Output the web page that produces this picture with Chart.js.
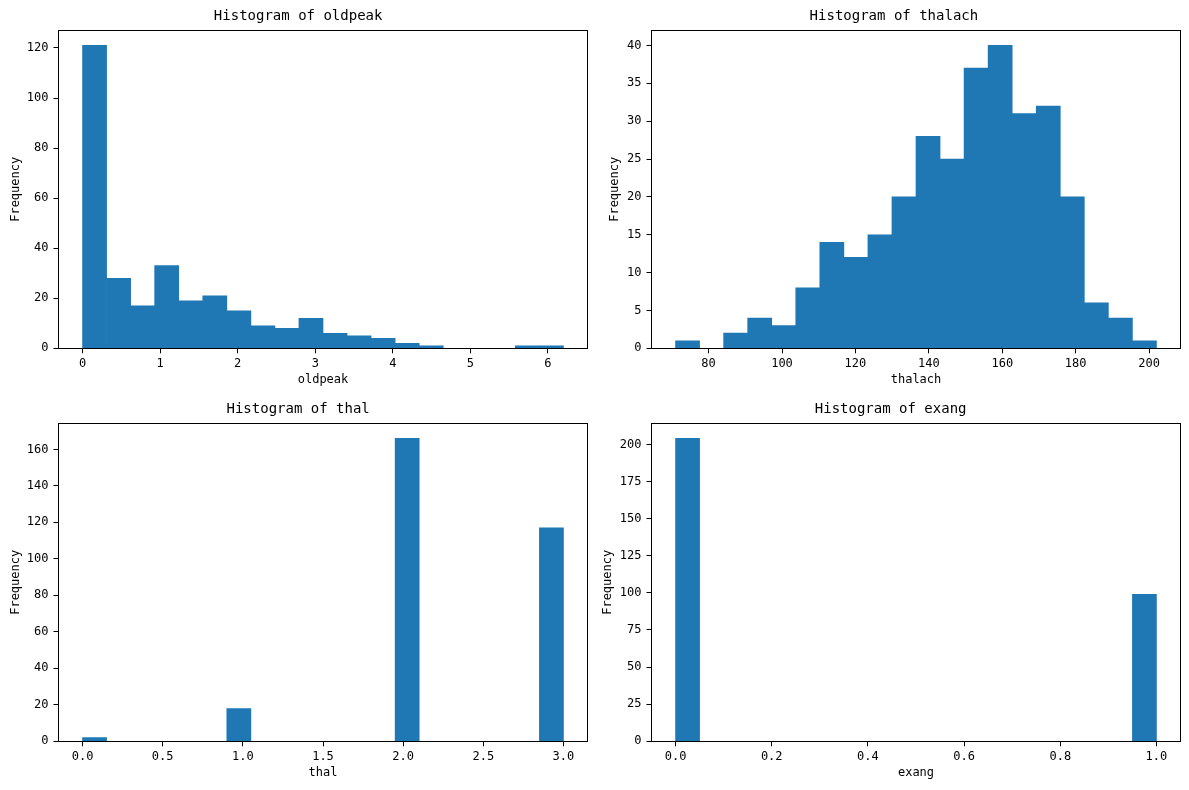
<!DOCTYPE html>
<html><head><meta charset="utf-8">
<script src="https://cdn.jsdelivr.net/npm/chart.js@4/dist/chart.umd.min.js"></script>
<style>
html,body{margin:0;padding:0;background:#fff;}
#wrap{position:relative;width:1189px;height:790px;overflow:hidden;background:#fff;}
canvas{position:absolute;}
</style></head><body>
<div id="wrap">
<canvas id="c1" width="594" height="395" style="left:0px;top:0px;width:594px;height:395px"></canvas>
<canvas id="c2" width="595" height="395" style="left:594px;top:0px;width:595px;height:395px"></canvas>
<canvas id="c3" width="594" height="395" style="left:0px;top:395px;width:594px;height:395px"></canvas>
<canvas id="c4" width="595" height="395" style="left:594px;top:395px;width:595px;height:395px"></canvas>
</div>
<script>
// ---- data (histogram counts, 20 bins each) ----
const oldpeakRange = [0, 6.2];
const oldpeakCounts = [121, 28, 17, 33, 19, 21, 15, 9, 8, 12, 6, 5, 4, 2, 1, 0, 0, 0, 1, 1];
const oldpeakXTicks = [0, 1, 2, 3, 4, 5, 6];
const oldpeakYTicks = [0, 20, 40, 60, 80, 100, 120];

const thalachRange = [71, 202];
const thalachCounts = [1, 0, 2, 4, 3, 8, 14, 12, 15, 20, 28, 25, 37, 40, 31, 32, 20, 6, 4, 1];
const thalachXTicks = [80, 100, 120, 140, 160, 180, 200];
const thalachYTicks = [0, 5, 10, 15, 20, 25, 30, 35, 40];

const thalRange = [0, 3];
const thalCounts = [2, 0, 0, 0, 0, 0, 18, 0, 0, 0, 0, 0, 0, 166, 0, 0, 0, 0, 0, 117];
const thalXTicks = [0, 0.5, 1, 1.5, 2, 2.5, 3];
const thalYTicks = [0, 20, 40, 60, 80, 100, 120, 140, 160];

const exangRange = [0, 1];
const exangCounts = [204, 0, 0, 0, 0, 0, 0, 0, 0, 0, 0, 0, 0, 0, 0, 0, 0, 0, 0, 99];
const exangXTicks = [0, 0.2, 0.4, 0.6, 0.8, 1.0];
const exangYTicks = [0, 25, 50, 75, 100, 125, 150, 175, 200];

// ---- styling / layout ----
const FONT = '"DejaVu Sans Mono", "Liberation Mono", monospace';
const BAR = '#1f77b4';
const TICK_FS = 12, TITLE_FS = 14;

const frame = {
  id: 'frame',
  afterDatasetsDraw(chart) {
    const {ctx, chartArea: a} = chart;
    ctx.save();
    ctx.strokeStyle = '#000';
    ctx.lineWidth = 1;
    const l = Math.floor(a.left) + 0.5, t = Math.floor(a.top) + 0.5;
    const r = Math.floor(a.right) + 0.5, b = Math.floor(a.bottom) + 0.5;
    ctx.strokeRect(l, t, r - l, b - t);
    ctx.restore();
  }
};

function makeHist(id, name, range, counts, xTicks, yTicks, decimals, box) {
  const canvas = document.getElementById(id);
  const W = canvas.width, H = canvas.height;
  const n = counts.length;
  const bw = (range[1] - range[0]) / n;
  const data = counts.map((c, i) => ({x: range[0] + bw * (i + 0.5), y: c}));
  const margin = (range[1] - range[0]) * 0.05;
  const ymax = Math.max(...counts) * 1.05;
  const lhT = TICK_FS * 1.2, lhTitle = TITLE_FS * 1.2;
  const padLeft = box.yTitleX - lhT / 2;
  const padBottom = H - box.xTitleY - lhT / 2;
  const padRight = W - box.caR;
  const yWidth = box.caL - padLeft;
  const xHeight = (H - padBottom) - box.caB;
  const tickFont = {family: FONT, size: TICK_FS};
  const gridCfg = () => ({display: true, offset: false, drawOnChartArea: false, drawTicks: true, tickLength: 5, tickColor: '#000', lineWidth: 1});
  new Chart(canvas, {
    type: 'bar',
    data: {datasets: [{data, backgroundColor: BAR, borderWidth: 0, barPercentage: 1, categoryPercentage: 1}]},
    plugins: [frame],
    options: {
      responsive: false,
      animation: false,
      events: [],
      layout: {padding: {left: padLeft, right: padRight, top: 0, bottom: padBottom}},
      plugins: {
        legend: {display: false},
        tooltip: {enabled: false},
        title: {
          display: true,
          text: 'Histogram of ' + name,
          color: '#000',
          font: {family: FONT, size: TITLE_FS, weight: 'normal'},
          padding: {top: box.titleY - lhTitle / 2, bottom: box.caT - box.titleY - lhTitle / 2}
        }
      },
      scales: {
        x: {
          type: 'linear',
          offset: false,
          min: range[0] - margin,
          max: range[1] + margin,
          grid: gridCfg(),
          border: {display: false},
          afterBuildTicks: s => { s.ticks = xTicks.map(v => ({value: v})); },
          afterFit: s => { s.height = xHeight; },
          ticks: {color: '#000', font: tickFont, padding: 3, maxRotation: 0, autoSkip: false,
                  callback: v => Number(v).toFixed(decimals)},
          title: {display: true, text: name, color: '#000', font: tickFont, padding: {top: 0, bottom: 0}}
        },
        y: {
          type: 'linear',
          min: 0,
          max: ymax,
          grid: gridCfg(),
          border: {display: false},
          afterBuildTicks: s => { s.ticks = yTicks.map(v => ({value: v})); },
          afterFit: s => { s.width = yWidth; },
          ticks: {color: '#000', font: tickFont, padding: 5, autoSkip: false,
                  callback: v => Number(v).toFixed(0)},
          title: {display: true, text: 'Frequency', color: '#000', font: tickFont, padding: {top: 0, bottom: 0}}
        }
      }
    }
  });
}

makeHist('c1', 'oldpeak', oldpeakRange, oldpeakCounts, oldpeakXTicks, oldpeakYTicks, 0,
  {caL: 58.5, caR: 587.5, caT: 30.3, caB: 348.3, titleY: 16.7, yTitleX: 16, xTitleY: 380});
makeHist('c2', 'thalach', thalachRange, thalachCounts, thalachXTicks, thalachYTicks, 0,
  {caL: 57.5, caR: 586.5, caT: 30.3, caB: 348.3, titleY: 16.7, yTitleX: 20.5, xTitleY: 380});
makeHist('c3', 'thal', thalRange, thalCounts, thalXTicks, thalYTicks, 1,
  {caL: 58.5, caR: 587.5, caT: 28.3, caB: 346.3, titleY: 14, yTitleX: 16, xTitleY: 378.3});
makeHist('c4', 'exang', exangRange, exangCounts, exangXTicks, exangYTicks, 1,
  {caL: 57.5, caR: 586.5, caT: 28.3, caB: 346.3, titleY: 14, yTitleX: 14, xTitleY: 378.3});
</script>
</body></html>
